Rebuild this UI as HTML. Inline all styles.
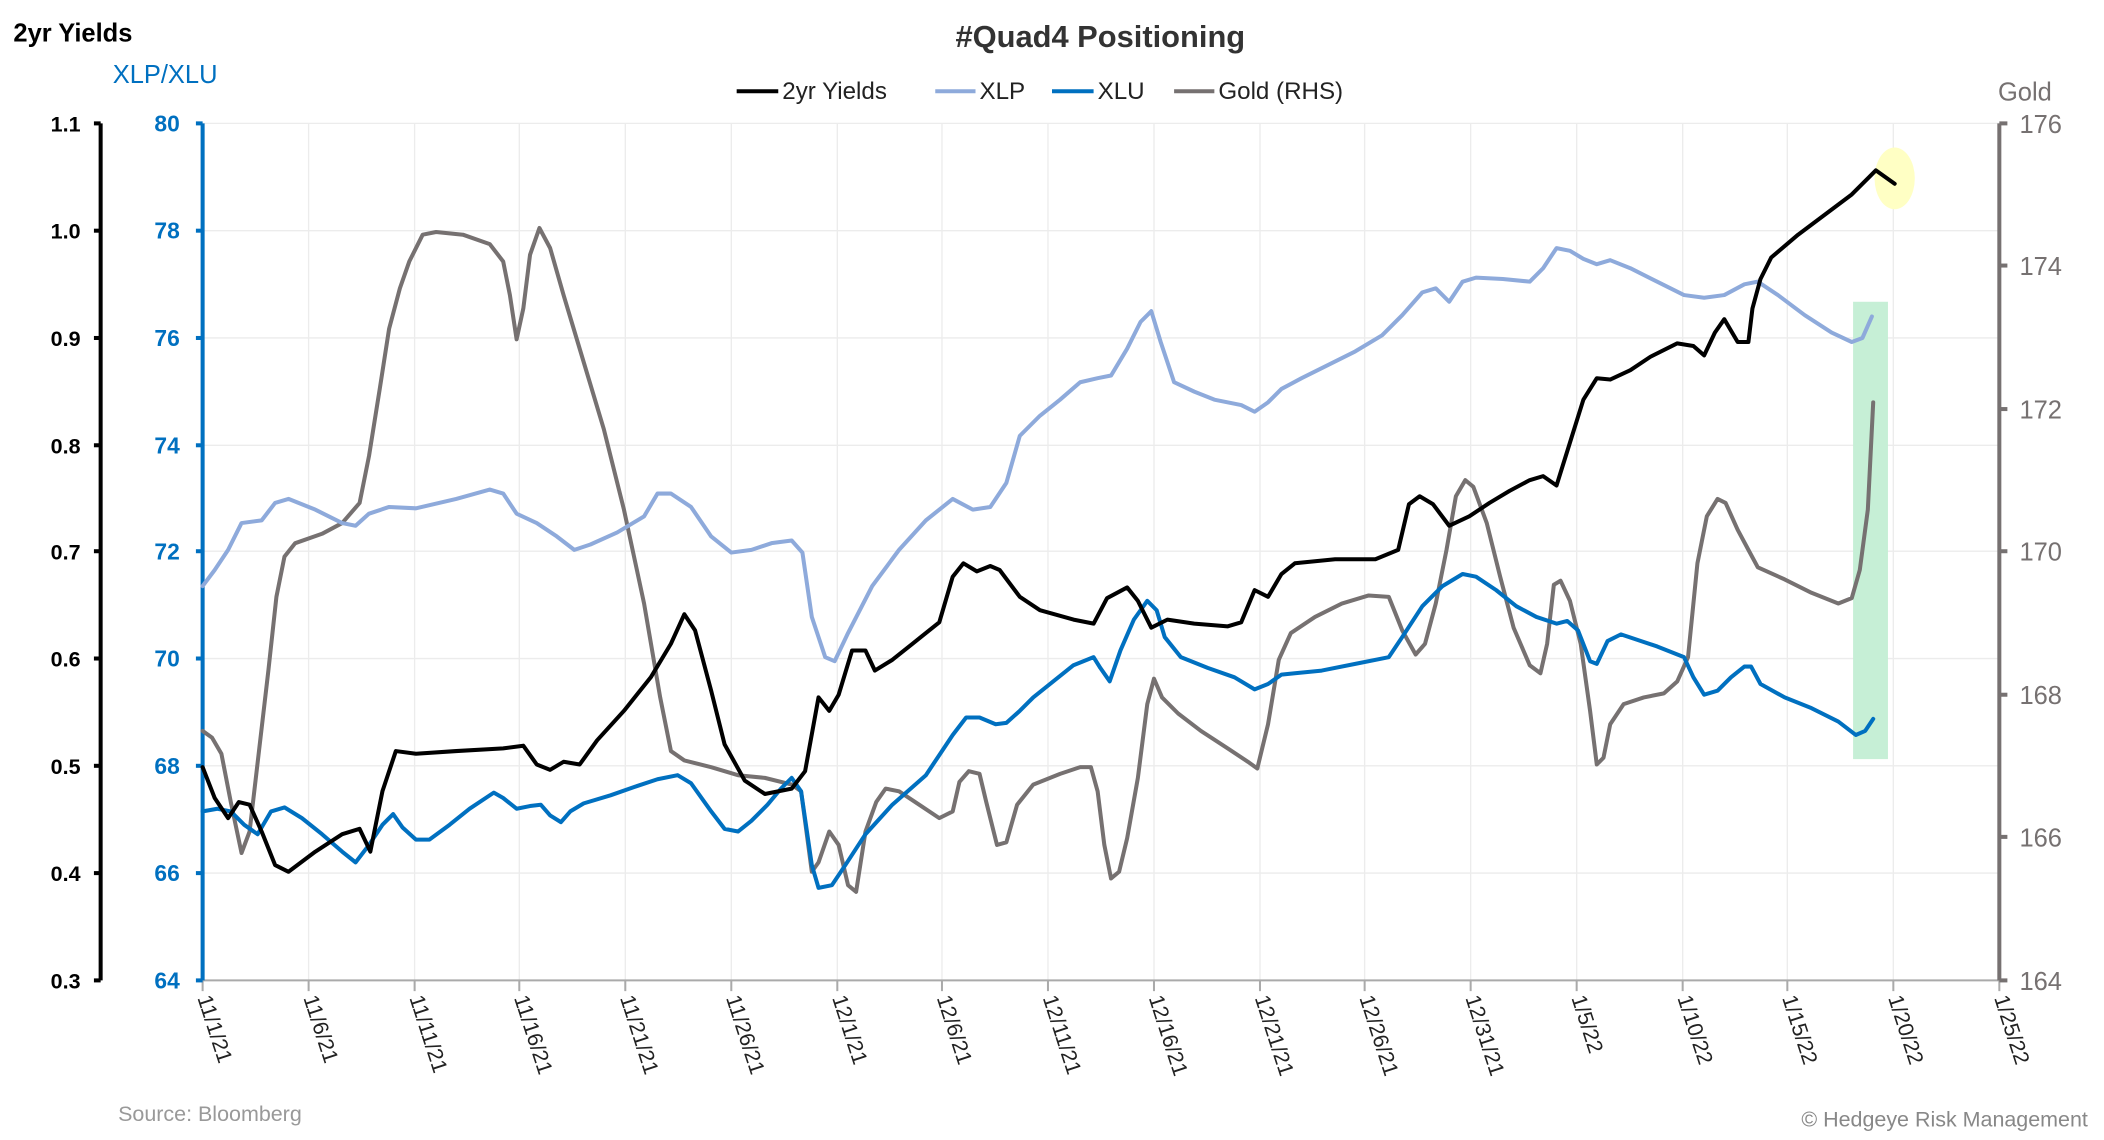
<!DOCTYPE html>
<html><head><meta charset="utf-8"><style>
html,body{margin:0;padding:0;background:#fff;}
svg{display:block;font-family:"Liberation Sans",sans-serif;}
</style></head><body>
<svg width="2104" height="1140" viewBox="0 0 1568 850" preserveAspectRatio="none" xmlns="http://www.w3.org/2000/svg">
<rect width="1568" height="850" fill="#fff"/>
<g stroke="#ececec" stroke-width="1">
<line x1="151" y1="92" x2="1490" y2="92"/><line x1="151" y1="172" x2="1490" y2="172"/><line x1="151" y1="252" x2="1490" y2="252"/><line x1="151" y1="332" x2="1490" y2="332"/><line x1="151" y1="411" x2="1490" y2="411"/><line x1="151" y1="491" x2="1490" y2="491"/><line x1="151" y1="571" x2="1490" y2="571"/><line x1="151" y1="651" x2="1490" y2="651"/>
<line x1="230" y1="92" x2="230" y2="731"/><line x1="309" y1="92" x2="309" y2="731"/><line x1="387" y1="92" x2="387" y2="731"/><line x1="466" y1="92" x2="466" y2="731"/><line x1="545" y1="92" x2="545" y2="731"/><line x1="624" y1="92" x2="624" y2="731"/><line x1="702" y1="92" x2="702" y2="731"/><line x1="781" y1="92" x2="781" y2="731"/><line x1="860" y1="92" x2="860" y2="731"/><line x1="939" y1="92" x2="939" y2="731"/><line x1="1017" y1="92" x2="1017" y2="731"/><line x1="1096" y1="92" x2="1096" y2="731"/><line x1="1175" y1="92" x2="1175" y2="731"/><line x1="1254" y1="92" x2="1254" y2="731"/><line x1="1332" y1="92" x2="1332" y2="731"/><line x1="1411" y1="92" x2="1411" y2="731"/>
</g>
<rect x="1381" y="225" width="26" height="341" fill="#c6efd6"/>
<ellipse cx="1412" cy="133" rx="15" ry="23" fill="#ffffc4"/>
<line x1="151" y1="731" x2="1490" y2="731" stroke="#aaa" stroke-width="1.5"/>
<g stroke="#aaa" stroke-width="1.5">
<line x1="151" y1="731" x2="151" y2="739"/><line x1="230" y1="731" x2="230" y2="739"/><line x1="309" y1="731" x2="309" y2="739"/><line x1="387" y1="731" x2="387" y2="739"/><line x1="466" y1="731" x2="466" y2="739"/><line x1="545" y1="731" x2="545" y2="739"/><line x1="624" y1="731" x2="624" y2="739"/><line x1="702" y1="731" x2="702" y2="739"/><line x1="781" y1="731" x2="781" y2="739"/><line x1="860" y1="731" x2="860" y2="739"/><line x1="939" y1="731" x2="939" y2="739"/><line x1="1017" y1="731" x2="1017" y2="739"/><line x1="1096" y1="731" x2="1096" y2="739"/><line x1="1175" y1="731" x2="1175" y2="739"/><line x1="1254" y1="731" x2="1254" y2="739"/><line x1="1332" y1="731" x2="1332" y2="739"/><line x1="1411" y1="731" x2="1411" y2="739"/><line x1="1490" y1="731" x2="1490" y2="739"/>
</g>
<g font-size="16" fill="#222">
<text transform="translate(147,744) rotate(72)">11/1/21</text>
<text transform="translate(226,744) rotate(72)">11/6/21</text>
<text transform="translate(305,744) rotate(72)">11/11/21</text>
<text transform="translate(383,744) rotate(72)">11/16/21</text>
<text transform="translate(462,744) rotate(72)">11/21/21</text>
<text transform="translate(541,744) rotate(72)">11/26/21</text>
<text transform="translate(620,744) rotate(72)">12/1/21</text>
<text transform="translate(698,744) rotate(72)">12/6/21</text>
<text transform="translate(777,744) rotate(72)">12/11/21</text>
<text transform="translate(856,744) rotate(72)">12/16/21</text>
<text transform="translate(935,744) rotate(72)">12/21/21</text>
<text transform="translate(1013,744) rotate(72)">12/26/21</text>
<text transform="translate(1092,744) rotate(72)">12/31/21</text>
<text transform="translate(1171,744) rotate(72)">1/5/22</text>
<text transform="translate(1250,744) rotate(72)">1/10/22</text>
<text transform="translate(1328,744) rotate(72)">1/15/22</text>
<text transform="translate(1407,744) rotate(72)">1/20/22</text>
<text transform="translate(1486,744) rotate(72)">1/25/22</text>
</g>
<line x1="75" y1="92" x2="75" y2="731" stroke="#000" stroke-width="3"/>
<g stroke="#000" stroke-width="3"><line x1="70" y1="92" x2="75" y2="92"/><line x1="70" y1="172" x2="75" y2="172"/><line x1="70" y1="252" x2="75" y2="252"/><line x1="70" y1="332" x2="75" y2="332"/><line x1="70" y1="411" x2="75" y2="411"/><line x1="70" y1="491" x2="75" y2="491"/><line x1="70" y1="571" x2="75" y2="571"/><line x1="70" y1="651" x2="75" y2="651"/><line x1="70" y1="731" x2="75" y2="731"/></g>
<g font-size="16" fill="#000" text-anchor="end" font-weight="bold">
<text x="60" y="98">1.1</text><text x="60" y="178">1.0</text><text x="60" y="258">0.9</text><text x="60" y="338">0.8</text><text x="60" y="417">0.7</text><text x="60" y="497">0.6</text><text x="60" y="577">0.5</text><text x="60" y="657">0.4</text><text x="60" y="737">0.3</text>
</g>
<line x1="151" y1="92" x2="151" y2="731" stroke="#0070c0" stroke-width="3"/>
<g stroke="#0070c0" stroke-width="3"><line x1="146" y1="92" x2="151" y2="92"/><line x1="146" y1="172" x2="151" y2="172"/><line x1="146" y1="252" x2="151" y2="252"/><line x1="146" y1="332" x2="151" y2="332"/><line x1="146" y1="411" x2="151" y2="411"/><line x1="146" y1="491" x2="151" y2="491"/><line x1="146" y1="571" x2="151" y2="571"/><line x1="146" y1="651" x2="151" y2="651"/><line x1="146" y1="731" x2="151" y2="731"/></g>
<g font-size="17" fill="#0070c0" text-anchor="end" font-weight="bold">
<text x="134" y="98">80</text><text x="134" y="178">78</text><text x="134" y="258">76</text><text x="134" y="338">74</text><text x="134" y="417">72</text><text x="134" y="497">70</text><text x="134" y="577">68</text><text x="134" y="657">66</text><text x="134" y="737">64</text>
</g>
<line x1="1490" y1="92" x2="1490" y2="731" stroke="#767171" stroke-width="3"/>
<g stroke="#767171" stroke-width="3"><line x1="1490" y1="92" x2="1496" y2="92"/><line x1="1490" y1="198" x2="1496" y2="198"/><line x1="1490" y1="305" x2="1496" y2="305"/><line x1="1490" y1="411" x2="1496" y2="411"/><line x1="1490" y1="518" x2="1496" y2="518"/><line x1="1490" y1="624" x2="1496" y2="624"/><line x1="1490" y1="731" x2="1496" y2="731"/></g>
<g font-size="19" fill="#767171">
<text x="1505" y="99">176</text><text x="1505" y="205">174</text><text x="1505" y="312">172</text><text x="1505" y="418">170</text><text x="1505" y="525">168</text><text x="1505" y="631">166</text><text x="1505" y="738">164</text>
</g>
<g fill="none" stroke-width="3" stroke-linejoin="round" stroke-linecap="round">
<polyline stroke="#767171" points="151,545 158,550 165,562 172,598 180,636 186,620 193,560 200,500 206,445 212,415 220,405 240,398 255,390 268,375 275,340 283,290 290,245 298,215 305,195 315,175 325,173 345,175 365,182 375,195 380,220 385,253 390,230 395,190 402,170 410,185 420,220 435,270 450,320 465,380 480,450 492,520 500,560 510,567 530,572 550,578 570,580 590,585 597,590 605,650 610,643 618,620 625,630 632,660 638,665 645,620 653,598 660,588 670,590 685,600 700,610 710,605 715,583 722,575 730,577 735,598 743,630 750,628 758,600 770,585 790,577 805,572 813,572 818,590 823,630 828,655 834,650 840,625 848,580 855,525 860,506 866,520 878,532 895,545 915,558 930,568 937,573 945,540 953,492 962,472 980,460 1000,450 1020,444 1035,445 1045,470 1055,488 1062,480 1070,450 1078,410 1085,370 1092,358 1098,363 1108,390 1118,430 1128,468 1140,496 1148,502 1153,480 1158,436 1163,433 1170,448 1178,480 1185,530 1190,570 1195,565 1200,540 1210,525 1225,520 1240,517 1250,508 1258,490 1265,420 1272,385 1280,372 1286,375 1295,395 1303,410 1310,423 1330,432 1350,442 1370,450 1380,446 1386,425 1392,380 1396,300"/>
<polyline stroke="#8eaadb" points="151,437 160,425 170,410 180,390 195,388 205,375 215,372 235,380 255,390 265,392 275,383 290,378 310,379 340,372 365,365 375,368 385,383 400,390 415,400 428,410 440,406 460,397 480,385 490,368 500,368 515,378 530,400 545,412 560,410 575,405 590,403 598,412 605,460 615,490 622,493 632,472 650,437 670,410 690,388 710,372 725,380 738,378 750,360 760,325 775,310 790,298 805,285 818,282 828,280 840,260 850,240 858,232 865,255 875,285 890,292 905,298 925,302 935,307 945,300 955,290 970,282 990,272 1010,262 1030,250 1045,235 1060,218 1070,215 1080,225 1090,210 1100,207 1120,208 1140,210 1150,200 1160,185 1170,187 1180,193 1190,197 1200,194 1215,200 1235,210 1255,220 1270,222 1285,220 1300,212 1310,210 1325,220 1345,235 1365,248 1380,255 1388,252 1395,236"/>
<polyline stroke="#0070c0" points="151,605 162,603 172,605 182,615 192,622 202,605 212,602 225,610 240,622 255,635 265,643 275,630 285,615 293,607 300,617 310,626 320,626 335,615 350,603 368,591 375,595 385,603 395,601 403,600 410,608 418,613 425,605 435,599 455,593 475,586 490,581 505,578 515,584 530,605 540,618 550,620 560,612 572,600 582,588 590,580 597,590 605,645 610,662 620,660 630,645 645,622 665,600 690,578 700,563 710,548 720,535 730,535 742,540 750,539 760,530 770,520 785,508 800,496 815,490 820,498 827,508 835,485 845,462 855,448 862,455 868,475 880,490 900,498 920,505 935,514 945,510 955,503 965,502 985,500 1010,495 1035,490 1045,475 1060,452 1075,437 1090,428 1100,430 1115,440 1130,452 1145,460 1160,465 1168,463 1176,470 1185,493 1190,495 1198,478 1208,473 1220,477 1235,482 1255,490 1262,505 1270,518 1280,515 1290,505 1300,497 1305,497 1312,510 1330,520 1350,528 1370,538 1383,548 1390,545 1396,536"/>
<polyline stroke="#000" points="151,572 160,595 170,610 178,598 186,600 195,620 205,645 215,650 235,635 255,622 268,618 276,635 285,590 295,560 310,562 340,560 375,558 390,556 400,570 410,574 420,568 432,570 445,552 465,530 485,505 500,480 510,458 518,470 530,515 540,555 555,582 570,592 590,588 600,575 610,520 618,530 625,518 635,485 645,485 652,500 665,492 680,480 700,464 710,430 718,420 728,426 738,422 745,425 760,445 775,455 800,462 815,465 825,446 840,438 848,448 858,468 870,462 890,465 915,467 925,464 935,440 945,445 955,428 965,420 995,417 1025,417 1042,410 1050,376 1058,370 1068,376 1080,392 1095,385 1110,375 1125,366 1140,358 1150,355 1160,362 1170,330 1180,298 1190,282 1200,283 1215,276 1230,266 1250,256 1262,258 1270,265 1278,248 1285,238 1295,255 1303,255 1306,230 1312,208 1320,192 1340,175 1360,160 1380,145 1393,132 1398,127 1412,137"/>
</g>
<text x="10" y="31" font-size="19" font-weight="bold" fill="#000">2yr Yields</text>
<text x="84" y="62" font-size="19" fill="#0070c0">XLP/XLU</text>
<text x="1489" y="75" font-size="19" fill="#767171">Gold</text>
<text x="820" y="35" font-size="23" font-weight="bold" fill="#333" text-anchor="middle">#Quad4 Positioning</text>
<g font-size="18" fill="#222">
<line x1="549" y1="68" x2="580" y2="68" stroke="#000" stroke-width="3"/><text x="583" y="74">2yr Yields</text>
<line x1="697" y1="68" x2="727" y2="68" stroke="#8eaadb" stroke-width="3"/><text x="730" y="74">XLP</text>
<line x1="784" y1="68" x2="815" y2="68" stroke="#0070c0" stroke-width="3"/><text x="818" y="74">XLU</text>
<line x1="875" y1="68" x2="905" y2="68" stroke="#767171" stroke-width="3"/><text x="908" y="74">Gold (RHS)</text>
</g>
<text x="88" y="836" font-size="16" fill="#999">Source: Bloomberg</text>
<text x="1556" y="840" font-size="16" fill="#888" text-anchor="end">© Hedgeye Risk Management</text>
</svg>
</body></html>
